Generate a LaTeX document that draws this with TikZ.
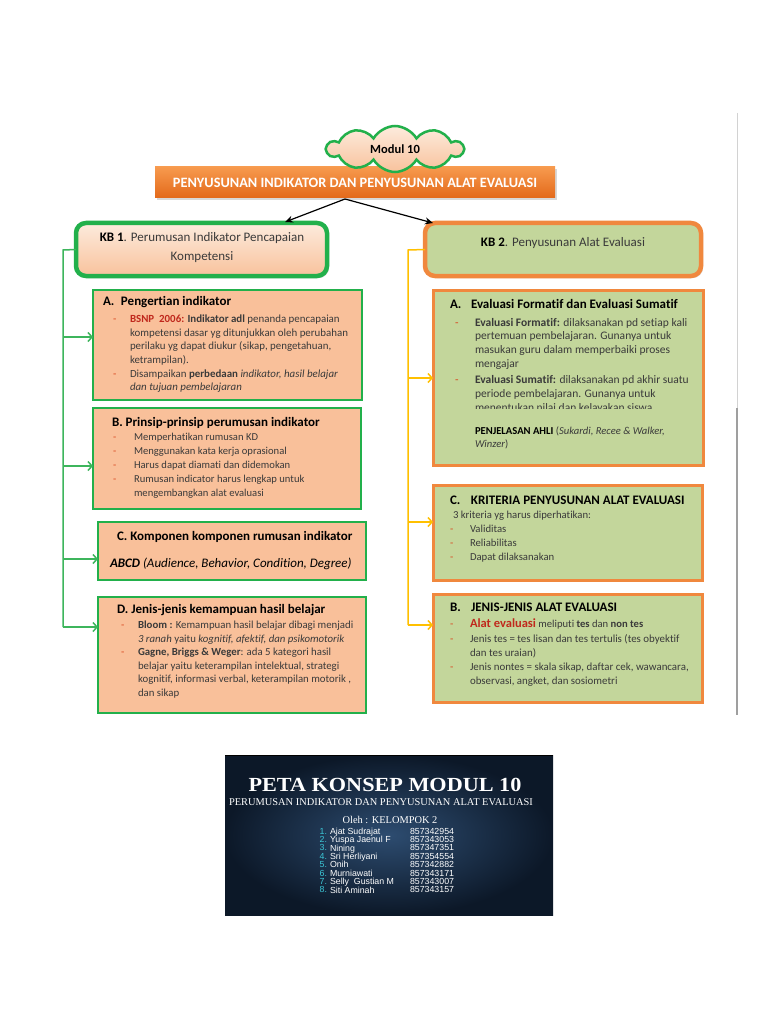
\documentclass[tikz,border=0pt]{standalone}
\usepackage{fontspec}
\setmainfont{Carlito}[Ligatures=CommonOff]
\newfontfamily\serifb{Liberation Serif}
\newfontfamily\arialf{Liberation Sans}
\usetikzlibrary{shapes.symbols,arrows.meta,calc,shadows}
\definecolor{kgreen}{HTML}{22B04B}
\definecolor{gline}{HTML}{3DB55C}
\definecolor{peachA}{HTML}{FDEBDD}
\definecolor{peachB}{HTML}{F8C29C}
\definecolor{boxpeach}{HTML}{F9C09A}
\definecolor{kborange}{HTML}{F0883E}
\definecolor{olive}{HTML}{C3D69B}
\definecolor{yline}{HTML}{FFC000}
\definecolor{dashred}{HTML}{D9461E}
\definecolor{txt}{HTML}{3A3A3A}
\definecolor{bsnp}{HTML}{C0281C}
\definecolor{bannerA}{HTML}{F79A4E}
\definecolor{bannerB}{HTML}{E3691A}
\definecolor{navyIn}{HTML}{2D4C70}
\definecolor{navyOut}{HTML}{0C1828}
\definecolor{cyanN}{HTML}{3CC8D8}
\newcommand{\dsh}{\textcolor{dashred}{-}}
\newcommand{\Li}[2]{\makebox[#1][l]{\dsh}#2}
\newcommand{\Lc}[2]{\hspace*{#1}#2}
\newcommand{\tightls}{\lineskiplimit=-5pt\relax}
\begin{document}
\begin{tikzpicture}[x=1pt,y=-1pt,
  every node/.style={inner sep=0pt, outer sep=0pt},
  lbox/.style={draw=kgreen, line width=2pt, fill=boxpeach, anchor=north west},
  rbox/.style={draw=kborange, line width=3pt, fill=olive, anchor=north west},
  body/.style={anchor=north west, align=left, text=txt},
  ttl/.style={anchor=west, text=black, font=\bfseries\fontsize{13}{15}\selectfont},
  gcon/.style={draw=gline, line width=1.5pt},
  garr/.style={gcon, -{Straight Barb[length=4pt,width=9pt]}},
  ycon/.style={draw=yline, line width=1.5pt},
  yarr/.style={ycon, -{Straight Barb[length=4pt,width=9pt]}},
  kbshadow/.style={drop shadow={opacity=0.25, shadow xshift=2pt, shadow yshift=-2pt}},
  listfont/.style={font=\arialf\fontsize{8.8}{8.4}\selectfont\tightls},
]
\useasboundingbox (0,0) rectangle (768,1024);
\fill[white] (0,0) rectangle (768,1024);

% page edge line
\draw[gray!35, line width=1pt] (737,113) -- (737,715);
\draw[gray!75, line width=1.2pt] (737,408) -- (737,715);

% banner and cloud
\node[anchor=north west, minimum width=400pt, minimum height=31pt, top color=bannerA, bottom color=bannerB,
  drop shadow={opacity=0.3, shadow xshift=2pt, shadow yshift=-2pt},
  text=white, font=\bfseries\fontsize{14.3}{16}\selectfont] (banner) at (155,167)
  {PENYUSUNAN INDIKATOR DAN PENYUSUNAN ALAT EVALUASI};
\node[cloud, cloud puffs=10, cloud puff arc=120, aspect=2.8, draw=kgreen, line width=2.5pt,
  top color=peachA, bottom color=peachB, minimum width=136pt, minimum height=46pt,
  font=\bfseries\fontsize{12.5}{14}\selectfont] (cloud) at (395,149) {Modul 10};

% KB boxes
\node[anchor=north west, minimum width=251pt, minimum height=53pt, rounded corners=10pt,
  draw=kgreen, line width=4.5pt, top color=peachA, bottom color=peachB, kbshadow] (kb1) at (76,223) {};
\node[align=center, font=\fontsize{13}{19}\selectfont, text=txt] (kb1t) at (202,247.5)
  {\textbf{\color{black}KB 1}. Perumusan Indikator Pencapaian\\ Kompetensi};
\node[anchor=north west, minimum width=276pt, minimum height=53pt, rounded corners=10pt,
  draw=kborange, line width=4.5pt, fill=olive, kbshadow] (kb2) at (425,223) {};
\node[font=\fontsize{13}{15}\selectfont, text=txt] (kb2t) at (563,243)
  {\textbf{\color{black}KB 2}. Penyusunan Alat Evaluasi};

% arrows from banner
\draw[line width=1.2pt, -{Stealth[length=8pt,width=7pt]}] ($(banner.south)+(-10,1)$) -- ($(kb1.north east)+(-42,-1)$);
\draw[line width=1.2pt, -{Stealth[length=8pt,width=7pt]}] ($(banner.south)+(-10,1)$) -- ($(kb2.north west)+(8,0)$);

% left boxes
\node[lbox, minimum width=269pt, minimum height=110pt] (la) at (93,290) {};
\node[lbox, minimum width=268pt, minimum height=101pt] (lb) at (93,408) {};
\node[lbox, minimum width=268pt, minimum height=58pt] (lc) at (98,522) {};
\node[lbox, minimum width=268pt, minimum height=116pt] (ld) at (98,597) {};

% right boxes
\node[rbox, minimum width=270pt, minimum height=175pt] (ra) at (433,290) {};
\node[rbox, minimum width=269pt, minimum height=95pt] (rc) at (433,485) {};
\node[rbox, minimum width=269pt, minimum height=108pt] (rb) at (433,594) {};

% left texts
\node[ttl] (lat) at (103,302) {\makebox[18pt][l]{A.}Pengertian indikator};
\node[body, font=\fontsize{10.9}{13.6}\selectfont] (lab) at (113,315) {%
\Li{17pt}{\textcolor{bsnp}{\bfseries BSNP~ 2006:} \textbf{Indikator adl} penanda pencapaian}\\
\Lc{17pt}{kompetensi dasar yg ditunjukkan oleh perubahan}\\
\Lc{17pt}{perilaku yg dapat diukur (sikap, pengetahuan,}\\
\Lc{17pt}{ketrampilan).}\\
\Li{17pt}{Disampaikan \textbf{perbedaan} \textit{indikator, hasil belajar}}\\
\Lc{17pt}{\textit{dan tujuan pembelajaran}}};

\node[ttl] (lbt) at (112,423) {B. Prinsip-prinsip perumusan indikator};
\node[body, font=\fontsize{10.6}{14}\selectfont] (lbb) at (113,433) {%
\Li{21pt}{Memperhatikan rumusan KD}\\
\Li{21pt}{Menggunakan kata kerja oprasional}\\
\Li{21pt}{Harus dapat diamati dan didemokan}\\
\Li{21pt}{Rumusan indicator harus lengkap untuk}\\
\Lc{21pt}{mengembangkan alat evaluasi}};

\node[ttl] (lct) at (117,537) {C. Komponen komponen rumusan indikator};
\node[anchor=west, text=black, font=\fontsize{13}{15}\selectfont] (lcb) at (110,564)
  {\textbf{\textit{ABCD}} \textit{(Audience, Behavior, Condition, Degree)}};

\node[ttl] (ldt) at (117,610) {D. Jenis-jenis kemampuan hasil belajar};
\node[body, font=\fontsize{10.8}{13.5}\selectfont] (ldb) at (121,621) {%
\Li{17pt}{\textbf{Bloom :} Kemampuan hasil belajar dibagi menjadi}\\
\Lc{17pt}{\textit{3 ranah} yaitu \textit{kognitif, afektif, dan psikomotorik}}\\
\Li{17pt}{\textbf{Gagne, Briggs \& Weger}: ada 5 kategori hasil}\\
\Lc{17pt}{belajar yaitu keterampilan intelektual, strategi}\\
\Lc{17pt}{kognitif, informasi verbal, keterampilan motorik ,}\\
\Lc{17pt}{dan sikap}};

% right texts
\node[ttl] (rat) at (450,304) {\makebox[21pt][l]{A.}Evaluasi Formatif dan Evaluasi Sumatif};
\begin{scope}
\clip (433,290) rectangle (703,408);
\node[body, font=\fontsize{11.5}{13.7}\selectfont] (rab) at (475,318) {%
\hspace*{-20pt}\Li{20pt}{\textbf{Evaluasi Formatif:} dilaksanakan pd setiap kali}\\
\Lc{0pt}{pertemuan pembelajaran. Gunanya untuk}\\
\Lc{0pt}{masukan guru dalam memperbaiki proses}\\
\Lc{0pt}{mengajar}\\[3pt]
\hspace*{-20pt}\Li{20pt}{\textbf{Evaluasi Sumatif:} dilaksanakan pd akhir suatu}\\
\Lc{0pt}{periode pembelajaran. Gunanya untuk}\\
\Lc{0pt}{menentukan nilai dan kelayakan siswa}};
\end{scope}
\node[body, font=\fontsize{10.6}{13}\selectfont] (rap) at (475,427) {%
\textbf{\color{black}PENJELASAN AHLI} (\textit{Sukardi, Recee \& Walker,}\\
\textit{Winzer})};

\node[ttl] (rct) at (450,500) {\makebox[21pt][l]{C.}KRITERIA PENYUSUNAN ALAT EVALUASI};
\node[body, font=\fontsize{10.7}{14}\selectfont] (rcb) at (450,511) {%
\hspace*{3pt}3 kriteria yg harus diperhatikan:\\
\Li{20pt}{Validitas}\\
\Li{20pt}{Reliabilitas}\\
\Li{20pt}{Dapat dilaksanakan}};

\node[ttl] (rbt) at (450,607) {\makebox[21pt][l]{B.}JENIS-JENIS ALAT EVALUASI};
\node[body, font=\fontsize{10.9}{14.3}\selectfont] (rbb) at (450,619) {%
\Li{20pt}{{\color{bsnp}\bfseries\fontsize{12.5}{13}\selectfont Alat evaluasi} {\fontsize{10.6}{13}\selectfont meliputi \textbf{tes} dan \textbf{non tes}}}\\
\Li{20pt}{Jenis tes = tes lisan dan tes tertulis (tes obyektif}\\
\Lc{20pt}{dan tes uraian)}\\
\Li{20pt}{Jenis nontes = skala sikap, daftar cek, wawancara,}\\
\Lc{20pt}{observasi, angket, dan sosiometri}};

% connectors left
\coordinate (lsT) at (63,250);
\coordinate (lsB) at (63,627);
\coordinate (aIn) at ($(la.north west)+(0,47)$);
\coordinate (bIn) at ($(lb.north west)+(0,58)$);
\coordinate (cIn) at ($(lc.north west)+(0,37)$);
\coordinate (dIn) at ($(ld.north west)+(0,30)$);
\draw[gcon] (kb1.west) -- (lsT) -- (lsB);
\draw[garr] (lsT |- aIn) -- (aIn);
\draw[garr] (lsT |- bIn) -- (bIn);
\draw[garr] (lsT |- cIn) -- (cIn);
\draw[garr] (lsB) -- (dIn);

% connectors right
\coordinate (rsT) at (408,250);
\coordinate (rsB) at (408,625);
\coordinate (raIn) at ($(ra.north west)+(0,88)$);
\coordinate (rcIn) at ($(rc.north west)+(0,37)$);
\coordinate (rbIn) at ($(rb.north west)+(0,31)$);
\draw[ycon] (kb2.west) -- (rsT) -- (rsB);
\draw[yarr] (rsT |- raIn) -- (raIn);
\draw[yarr] (rsT |- rcIn) -- (rcIn);
\draw[yarr] (rsB) -- (rbIn);

% bottom poster
\node[anchor=north west, minimum width=328pt, minimum height=160pt, inner color=navyIn, outer color=navyOut] (poster) at (225,755) {};
\draw[black, line width=1pt] (poster.north west) -- (poster.north east);
\node[text=white, font=\serifb\bfseries\fontsize{20}{24}\selectfont] (pt) at (385,785) {\scalebox{1.11}[1]{PETA KONSEP MODUL 10}};
\node[text=white, font=\serifb\fontsize{10.4}{12}\selectfont] (ps) at (381,802) {PERUMUSAN INDIKATOR DAN PENYUSUNAN ALAT EVALUASI};
\node[text=white, font=\serifb\fontsize{10.4}{12}\selectfont] (po) at (390,820) {Oleh : KELOMPOK 2};
\node[anchor=north east, align=right, text=cyanN, listfont] (nums) at (327,828)
  {1.\\2.\\3.\\4.\\5.\\6.\\7.\\8.};
\node[anchor=north west, align=left, text=white, listfont] (names) at (330,828)
  {Ajat Sudrajat\\Yuspa Jaenul F\\Nining\\Sri Herliyani\\Onih\\Murniawati\\Selly~ Gustian M\\Siti Aminah};
\node[anchor=north west, align=left, text=white, listfont] (ids) at (410,828)
  {857342954\\857343053\\857347351\\857354554\\857342882\\857343171\\857343007\\857343157};
\end{tikzpicture}
\end{document}
